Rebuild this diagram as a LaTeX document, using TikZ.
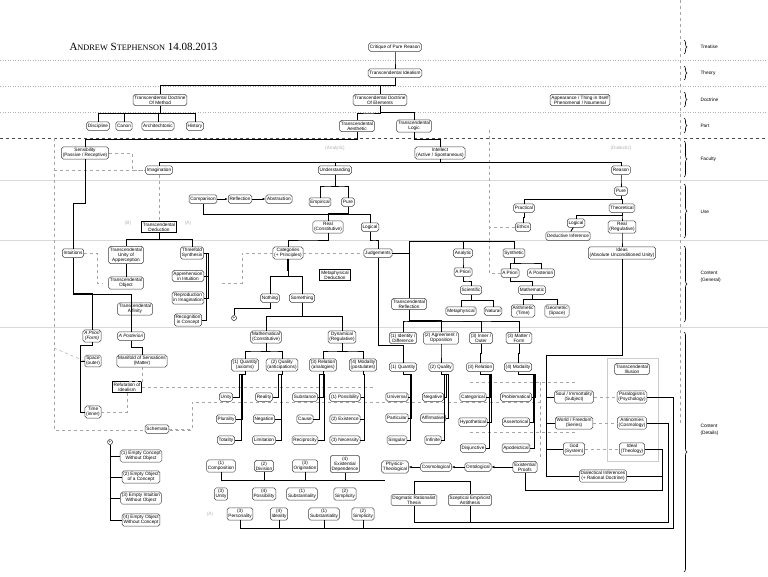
\documentclass[tikz,border=0pt]{standalone}
\usepackage{fontspec}
\setmainfont{Liberation Sans}
\newfontfamily\hdfont{Liberation Serif}
\usetikzlibrary{arrows.meta,calc,decorations.pathreplacing}
\newcommand\N[5][]{\node[bx,#1] (#2) at (#3,#4) {#5};}
\newcommand\Tr[2]{\draw[tr] (#1.south) |- ($(#1.south)!.5!(#2.north)$) -| (#2.north);}
\newcommand\Br[3]{\draw[tr] (#1.south) -- ++(0,3) -| ([xshift=#3]#2.east) -- (#2.east);}
\newcommand\Rb[3]{\draw[tr] (#1.east) -| ([xshift=#3]#2.east) -- (#2.east);}
\newcommand\Sc[1]{{\fontsize{8.3}{9}\selectfont #1}}
\begin{document}
\begin{tikzpicture}[x=1pt,y=-1pt,
 bx/.style={draw=black!75,rounded corners=1.8pt,inner sep=1.3pt,align=center,fill=white,
   font=\fontsize{4.7}{5.1}\selectfont,line width=0.5pt,minimum height=8.5pt},
 tk/.style={line width=1pt,sharp corners,draw=black},
 tr/.style={line width=0.9pt,black},
 gd/.style={gray!70,dashed,line width=0.5pt},
 gl/.style={gray!60,font=\fontsize{4.7}{5}\selectfont},
 lab/.style={font=\fontsize{4.8}{5.2}\selectfont,anchor=west,align=left},
 br/.style={decorate,decoration={brace,amplitude=3pt},line width=0.6pt}]
\useasboundingbox (0,0) rectangle (768,576);
\fill[white] (0,0) rectangle (768,576);
% grid
\foreach \y in {60,86,112} \draw[gray!60,dotted,line width=0.5pt] (0,\y) -- (768,\y);
\draw[black!70,dashed,line width=0.5pt] (0,138) -- (768,138);
\foreach \y in {180,240,327} \draw[gray!30,line width=0.4pt] (0,\y) -- (768,\y);
\draw[gd] (680,0) -- (680,425);
\draw[gd] (489,130) -- (489,240);
\draw[gd] (54,138) -- (54,430) -- (192,430);
% header and labels
\node[anchor=west,font=\hdfont\fontsize{11}{12}\selectfont] (hd) at (66,47) {A\Sc{NDREW} S\Sc{TEPHENSON} 14.08.2013};
\draw[br] (684,40) -- (684,54); \node[lab] (l1) at (697,47) {Treatise};
\draw[br] (684,66) -- (684,80); \node[lab] (l2) at (697,73) {Theory};
\draw[br] (684,92) -- (684,107); \node[lab] (l3) at (697,100) {Doctrine};
\draw[br] (684,118) -- (684,133); \node[lab] (l4) at (697,126) {Part};
\draw[br] (684,141) -- (684,177); \node[lab] (l5) at (697,159) {Faculty};
\draw[br] (684,184) -- (684,238); \node[lab] (l6) at (697,212) {Use};
\draw[br] (684,246) -- (684,322); \node[lab] (l7) at (697,277) {Content\\[2pt](General)};
\draw[br] (684,332) -- (684,572); \node[lab] (l8) at (697,430) {Content\\[2pt](Details)};
% top
\N{cpr}{395}{47}{Critique of Pure Reason}
\N{ti}{395}{73}{Transcendental Idealism}
\N{tdm}{160}{100}{Transcendental Doctrine\\Of Method}
\N{tde}{380}{100}{Transcendental Doctrine\\Of Elements}
\N{app}{580}{100}{Appearance / Thing in Itself\\Phenomenal / Noumenal}
\N{disc}{98}{126}{Discipline}
\N{can}{124}{126}{Canon}
\N{arch}{158}{126}{Architechtonic}
\N{hist}{195}{126}{History}
\N{aes}{357}{126}{Transcendental\\Aesthetic}
\N{lgc}{414}{126}{Transcendental\\Logic}
% faculty
\N{sens}{85}{153}{Sensibility\\(Passive / Receptive)}
\N{intel}{440}{153}{Intellect\\(Active / Spontaneous)}
\N{imag}{159}{170}{Imagination}
\N{und}{335}{170}{Understanding}
\N{rea}{621}{170}{Reason}
\node[gl] (an) at (335,148) {(Analytic)};
\node[gl] (di) at (621,148) {(Dialectic)};
% use
\N{comp}{203}{199}{Comparison}
\N{refl}{240}{199}{Reflection}
\N{abst}{279}{199}{Abstraction}
\N{emp}{320}{202}{Empirical}
\N{pu}{348}{202}{Pure}
\N{realc}{328}{227}{Real\\(Constitutive)}
\N{logi}{370}{227}{Logical}
\N{pur}{621}{191}{Pure}
\N{prac}{524}{208}{Practical}
\N{theo}{622}{208}{Theoretical}
\N{eth}{523}{227}{Ethics}
\N{logr}{576}{223}{Logical}
\N{ded}{568}{236}{Deductive Inference}
\N{realr}{622}{227}{Real\\(Regulative)}
\N[tk]{tded}{159}{227}{Transcendental\\Deduction}
\node[gl] (gb) at (128,223) {(B)};
\node[gl] (ga) at (188,223) {(A)};
% content general
\N{intu}{73}{253}{Intuitions}
\N{tua}{126}{255}{Transcendental\\Unity of\\Apperception}
\N{tob}{126}{283}{Transcendental\\Object}
\N{taf}{135}{309}{Transcendental\\Affinity}
\N{thr}{192}{253}{Threefold\\Synthesis}
\N{appr}{188}{276}{Apprehension\\in Intuition}
\N{repr}{188}{298}{Reproduction\\in Imagination}
\N{reco}{188}{320}{Recognition\\in Concept}
\N{cat}{288}{253}{Categories\\(+ Principles)}
\N[tk]{mded}{335}{275}{Metaphysical\\Deduction}
\N{noth}{270}{298}{Nothing}
\N{some}{302}{298}{Something}
\N[inner sep=0.8pt,minimum height=5pt,minimum width=5pt]{plus}{234}{318}{+}
\N{judg}{378}{253}{Judgements}
\N{ana}{463}{253}{Analytic}
\N{syn}{514}{253}{Synthetic}
\N{apa}{463}{272}{A Priori}
\N{aps}{510}{273}{A Priori}
\N{apo}{541}{273}{A Posteriori}
\N{sci}{471}{290}{Scientific}
\N{mat}{532}{290}{Mathematic}
\N{meta}{461}{311}{Metaphysical}
\N{nat}{493}{311}{Natural}
\N{ari}{523}{311}{Arithmetic\\(Time)}
\N{geo}{557}{311}{Geometric\\(Space)}
\N{trefl}{409}{304}{Transcendental\\Reflection}
\N{ideas}{622}{253}{Ideas\\(Absolute Unconditioned Unity)}
\N{idd}{403}{338}{(1) Identity /\\Difference}
\N{agr}{441}{338}{(2) Agreement /\\Opposition}
\N{inn}{481}{338}{(3) Inner /\\Outer}
\N{mf}{519}{338}{(3) Matter /\\Form}
% details left
\N[font=\fontsize{4.7}{5.1}\selectfont\itshape]{apr}{92}{336}{A Priori\\(Form)}
\N[font=\fontsize{4.7}{5.1}\selectfont\itshape]{apost}{131}{336}{A Posteriori}
\N{space}{93}{361}{Space\\(outer)}
\N{manif}{142}{361}{Manifold of Sensations\\(Matter)}
\N[tk]{refut}{127}{387}{Refutation of\\Idealism}
\N{time}{93}{412}{Time\\(inner)}
\N{sch}{157}{429}{Schemata}
\N[inner sep=0.8pt,minimum height=5pt,minimum width=5pt]{plus2}{110}{442}{+}
\N{e1}{141}{456}{(1) Empty Concept\\Without Object}
\N{e2}{141}{477}{(2) Empty Object\\of a Concept}
\N{e3}{141}{498}{(3) Empty Intuition\\Without Object}
\N{e4}{141}{520}{(4) Empty Object\\Without Concept}
\N{mth}{266}{337}{Mathematical\\(Constitutive)}
\N{dyn}{342}{337}{Dynamical\\(Regulative)}
\N{q1}{245}{365}{(1) Quantity\\(axioms)}
\N{q2}{282}{365}{(2) Quality\\(anticipations)}
\N{q3}{323}{365}{(3) Relation\\(analogies)}
\N{q4}{363}{365}{(4) Modality\\(postulates)}
\N{uni}{226}{397}{Unity}
\N{plu}{226}{419}{Plurality}
\N{tot}{226}{440}{Totality}
\N{rea2}{264}{397}{Reality}
\N{neg}{264}{419}{Negation}
\N{lim}{264}{440}{Limitation}
\N{sub}{305}{397}{Substance}
\N{cau}{305}{419}{Cause}
\N{rec}{305}{440}{Reciprocity}
\N{pos}{345}{397}{(1) Possibility}
\N{exi}{345}{419}{(2) Existence}
\N{nec}{345}{440}{(3) Necessity}
\N{cmp}{221}{466}{(1)\\Composition}
\N{div}{264}{466}{(2)\\Division}
\N{ori}{305}{466}{(3)\\Origination}
\N{dep}{345}{464}{(4)\\Existential\\Dependence}
\N{u3}{221}{494}{(3)\\Unity}
\N{p4}{264}{494}{(4)\\Possibility}
\N{s1}{302}{494}{(1)\\Substantiality}
\N{si2}{345}{494}{(2)\\Simplicity}
\N{per}{240}{514}{(3)\\Personality}
\N{ide}{279}{514}{(4)\\Ideality}
\N{s1b}{324}{514}{(1)\\Substantiality}
\N{si2b}{363}{514}{(2)\\Simplicity}
\node[gl] (ga2) at (210,514) {(A)};
% details right
\N{rq1}{403}{367}{(1) Quantity}
\N{rq2}{441}{367}{(2) Quality}
\N{rq3}{480}{367}{(3) Relation}
\N{rq4}{518}{367}{(4) Modality}
\N{univ}{397}{397}{Universal}
\N{part}{397}{418}{Particular}
\N{sing}{397}{440}{Singular}
\N{negv}{433}{397}{Negative}
\N{aff}{433}{418}{Affirmative}
\N{inf}{433}{440}{Infinite}
\N{cate}{473}{397}{Categorical}
\N{hyp}{473}{422}{Hypothetical}
\N{disj}{473}{448}{Disjunctive}
\N{prob}{516}{397}{Problematical}
\N{asse}{516}{422}{Assertorical}
\N{apod}{516}{448}{Apodeictical}
\N{phys}{395}{467}{Physico-\\Theological}
\N{cosm}{436}{467}{Cosmological}
\N{onto}{478}{467}{Ontological}
\N{exp}{525}{467}{Existential\\Proofs}
\N{dog}{414}{500}{Dogmatic Rationalist\\Thesis}
\N{scep}{470}{500}{Sceptical Empiricist\\Antithesis}
\draw[gray!40,line width=0.6pt] (607,358) rectangle (658,461);
\N{soul}{574}{397}{Soul / Immortality\\(Subject)}
\N{wor}{574}{423}{World / Freedom\\(Series)}
\N{god}{574}{449}{God\\(System)}
\N{till}{632}{369}{Transcendental\\Illusion}
\N{para}{632}{397}{Paralogisms\\(Psychology)}
\N{anti}{632}{423}{Antinomies\\(Cosmology)}
\N{idl}{632}{449}{Ideal\\(Theology)}
\N{dia}{603}{476}{Dialectical Inferences\\(+ Rational Doctrine)}
% dashed helpers
\draw[gd] (sens.east) -| (132,170) -- (imag.west);
\draw[gd] (imag.south) -- (tded.north);
\draw[gd] (intu.east) -| (97,283) -- (103,283);
\draw[gd] (cat.west) -| (242,283) -- (222,283);
\draw[gd] (cat.east) -- (judg.west);
\draw[gd] (eth.west) -- (489,227);
\draw[gd] (aps.west) -| (489,240);
\draw[gd] (refut.east) -- (373,387);
\draw[gd] (54,170) -- (imag.west);
\draw[gd] (54,348) -- (space.west);
\draw[gd] (sch.east) -| (192,402) -- (540,402);
\draw[gd] (540,382) -- (540,458);
\draw[gd] (470,382) -- (575,382);
\draw[gd] (470,432) -- (575,432);
\draw[gd] (soul.east) -- (para.west);
\draw[gd] (wor.east) -- (anti.west);
\draw[gd] (god.east) -- (idl.west);
\draw[gd] (manif.south) |- (refut.north);
\draw[gd] (time.east) -| (refut.south);
% tree edges
\Tr{cpr}{ti}
\Tr{ti}{tdm} \Tr{ti}{tde}
\Tr{tdm}{disc} \Tr{tdm}{can} \Tr{tdm}{arch} \Tr{tdm}{hist}
\Tr{tde}{aes} \Tr{tde}{lgc}
\Tr{aes}{sens} \Tr{lgc}{intel}
\Tr{intel}{imag} \Tr{intel}{und} \Tr{intel}{rea}
\Tr{sens}{intu}
\Tr{intu}{apr} \Tr{intu}{apost}
\draw[tr] (apr.south) -- ++(0,3) -| ([xshift=-4]space.west) |- (time.west);
\draw[tr] ([xshift=-4]space.west) -- (space.west);
\Tr{apost}{manif}
\Tr{und}{emp} \Tr{und}{pu}
\Tr{pu}{realc} \Tr{pu}{logi}
\draw[tr,-{Latex[length=3pt]}] (comp) -- (refl);
\draw[tr,-{Latex[length=3pt]}] (refl) -- (abst);
\draw[tr] (comp.south) |- ($(pu.south)!.5!(logi.north)$);
\Tr{realc}{cat} \Tr{logi}{judg}
\draw[line width=2pt] (cat.south) -- ++(0,12);
\Tr{cat}{noth} \Tr{cat}{some}
\Tr{noth}{plus}
\Tr{some}{mth} \Tr{some}{dyn}
\Tr{tded}{tua} \Tr{tded}{thr}
\draw[tr] (tua) -- (tob);
\Rb{thr}{reco}{4} \Rb{thr}{appr}{4} \Rb{thr}{repr}{4}
\Tr{rea}{pur} \Tr{pur}{prac} \Tr{pur}{theo}
\Tr{prac}{eth} \Tr{theo}{logr} \Tr{theo}{realr}
\draw[tr] (logr) -- (ded);
\Tr{realr}{ideas}
\coordinate (jn) at (409,241);
\draw[tr] (judg.east) -| (jn) -| (ana.north);
\draw[tr] (jn) -| (syn.north);
\draw[tr] (jn) -- (trefl.north);
\draw[tr] (judg.south) -- (judg.south |- 0,345) -| (rq1.north);
\Tr{ana}{apa} \Tr{syn}{aps} \Tr{syn}{apo}
\Tr{apa}{sci} \Tr{aps}{mat}
\Tr{sci}{meta} \Tr{sci}{nat} \Tr{mat}{ari} \Tr{mat}{geo}
\Tr{trefl}{idd} \Tr{trefl}{agr} \Tr{trefl}{inn} \Tr{trefl}{mf}
\Tr{agr}{rq2} \Tr{inn}{rq3} \Tr{mf}{rq4}
\Tr{mth}{q1} \Tr{mth}{q2} \Tr{dyn}{q3} \Tr{dyn}{q4}
\Br{q1}{uni}{7} \Br{q1}{plu}{7} \Br{q1}{tot}{7}
\Br{q2}{rea2}{6} \Br{q2}{neg}{6} \Br{q2}{lim}{6}
\Br{q3}{sub}{6} \Br{q3}{cau}{6} \Br{q3}{rec}{6}
\Br{q4}{pos}{4} \Br{q4}{exi}{4} \Br{q4}{nec}{4}
\Br{rq1}{univ}{3} \Br{rq1}{part}{3} \Br{rq1}{sing}{3}
\Br{rq2}{negv}{3} \Br{rq2}{aff}{3} \Br{rq2}{inf}{3}
\Br{rq3}{cate}{4} \Br{rq3}{hyp}{4} \Br{rq3}{disj}{4}
\Br{rq4}{prob}{4} \Br{rq4}{asse}{4} \Br{rq4}{apod}{4}
\draw[tr] (cmp.south) |- (dep.south |- 0,480) -- (dep.south);
\draw[tr] (div.south) -- (div.south |- 0,480);
\draw[tr] (ori.south) -- (ori.south |- 0,480);
\draw[tr] (dep.south |- 0,480) -- (385,480);
\draw[tr,-{Latex[length=3pt]}] (exp) -- (onto);
\draw[tr,-{Latex[length=3pt]}] (onto) -- (cosm);
\draw[tr,-{Latex[length=3pt]}] (cosm) -- (phys);
\draw[tr] (dog.north) |- (414,481) -| (scep.north);
\draw[tr] (dog.south) |- (668,522) |- (anti.east);
\draw[tr] (scep.south) -- (scep.south |- 0,522);
\draw[tr] (per.south) |- (673,528) |- (para.east);
\draw[tr] (ide.south) -- (ide.south |- 0,528);
\draw[tr] (s1b.south) -- (s1b.south |- 0,528);
\draw[tr] (si2b.south) -- (si2b.south |- 0,528);
\draw[tr] (exp.south) |- (662,490) |- (idl.east);
\draw[tr] (ideas.south) |- (546,355) |- (dia.west);
\draw[tr] (546,397) -- (soul.west);
\draw[tr] (546,423) -- (wor.west);
\draw[tr] (546,449) -- (god.west);
\draw[tr] (dia.east) -- (662,476);
\draw[tr] (plus2.south) |- (e4.west);
\draw[tr] (plus2.south |- e1.west) -- (e1.west);
\draw[tr] (plus2.south |- e2.west) -- (e2.west);
\draw[tr] (plus2.south |- e3.west) -- (e3.west);
\end{tikzpicture}
\end{document}
